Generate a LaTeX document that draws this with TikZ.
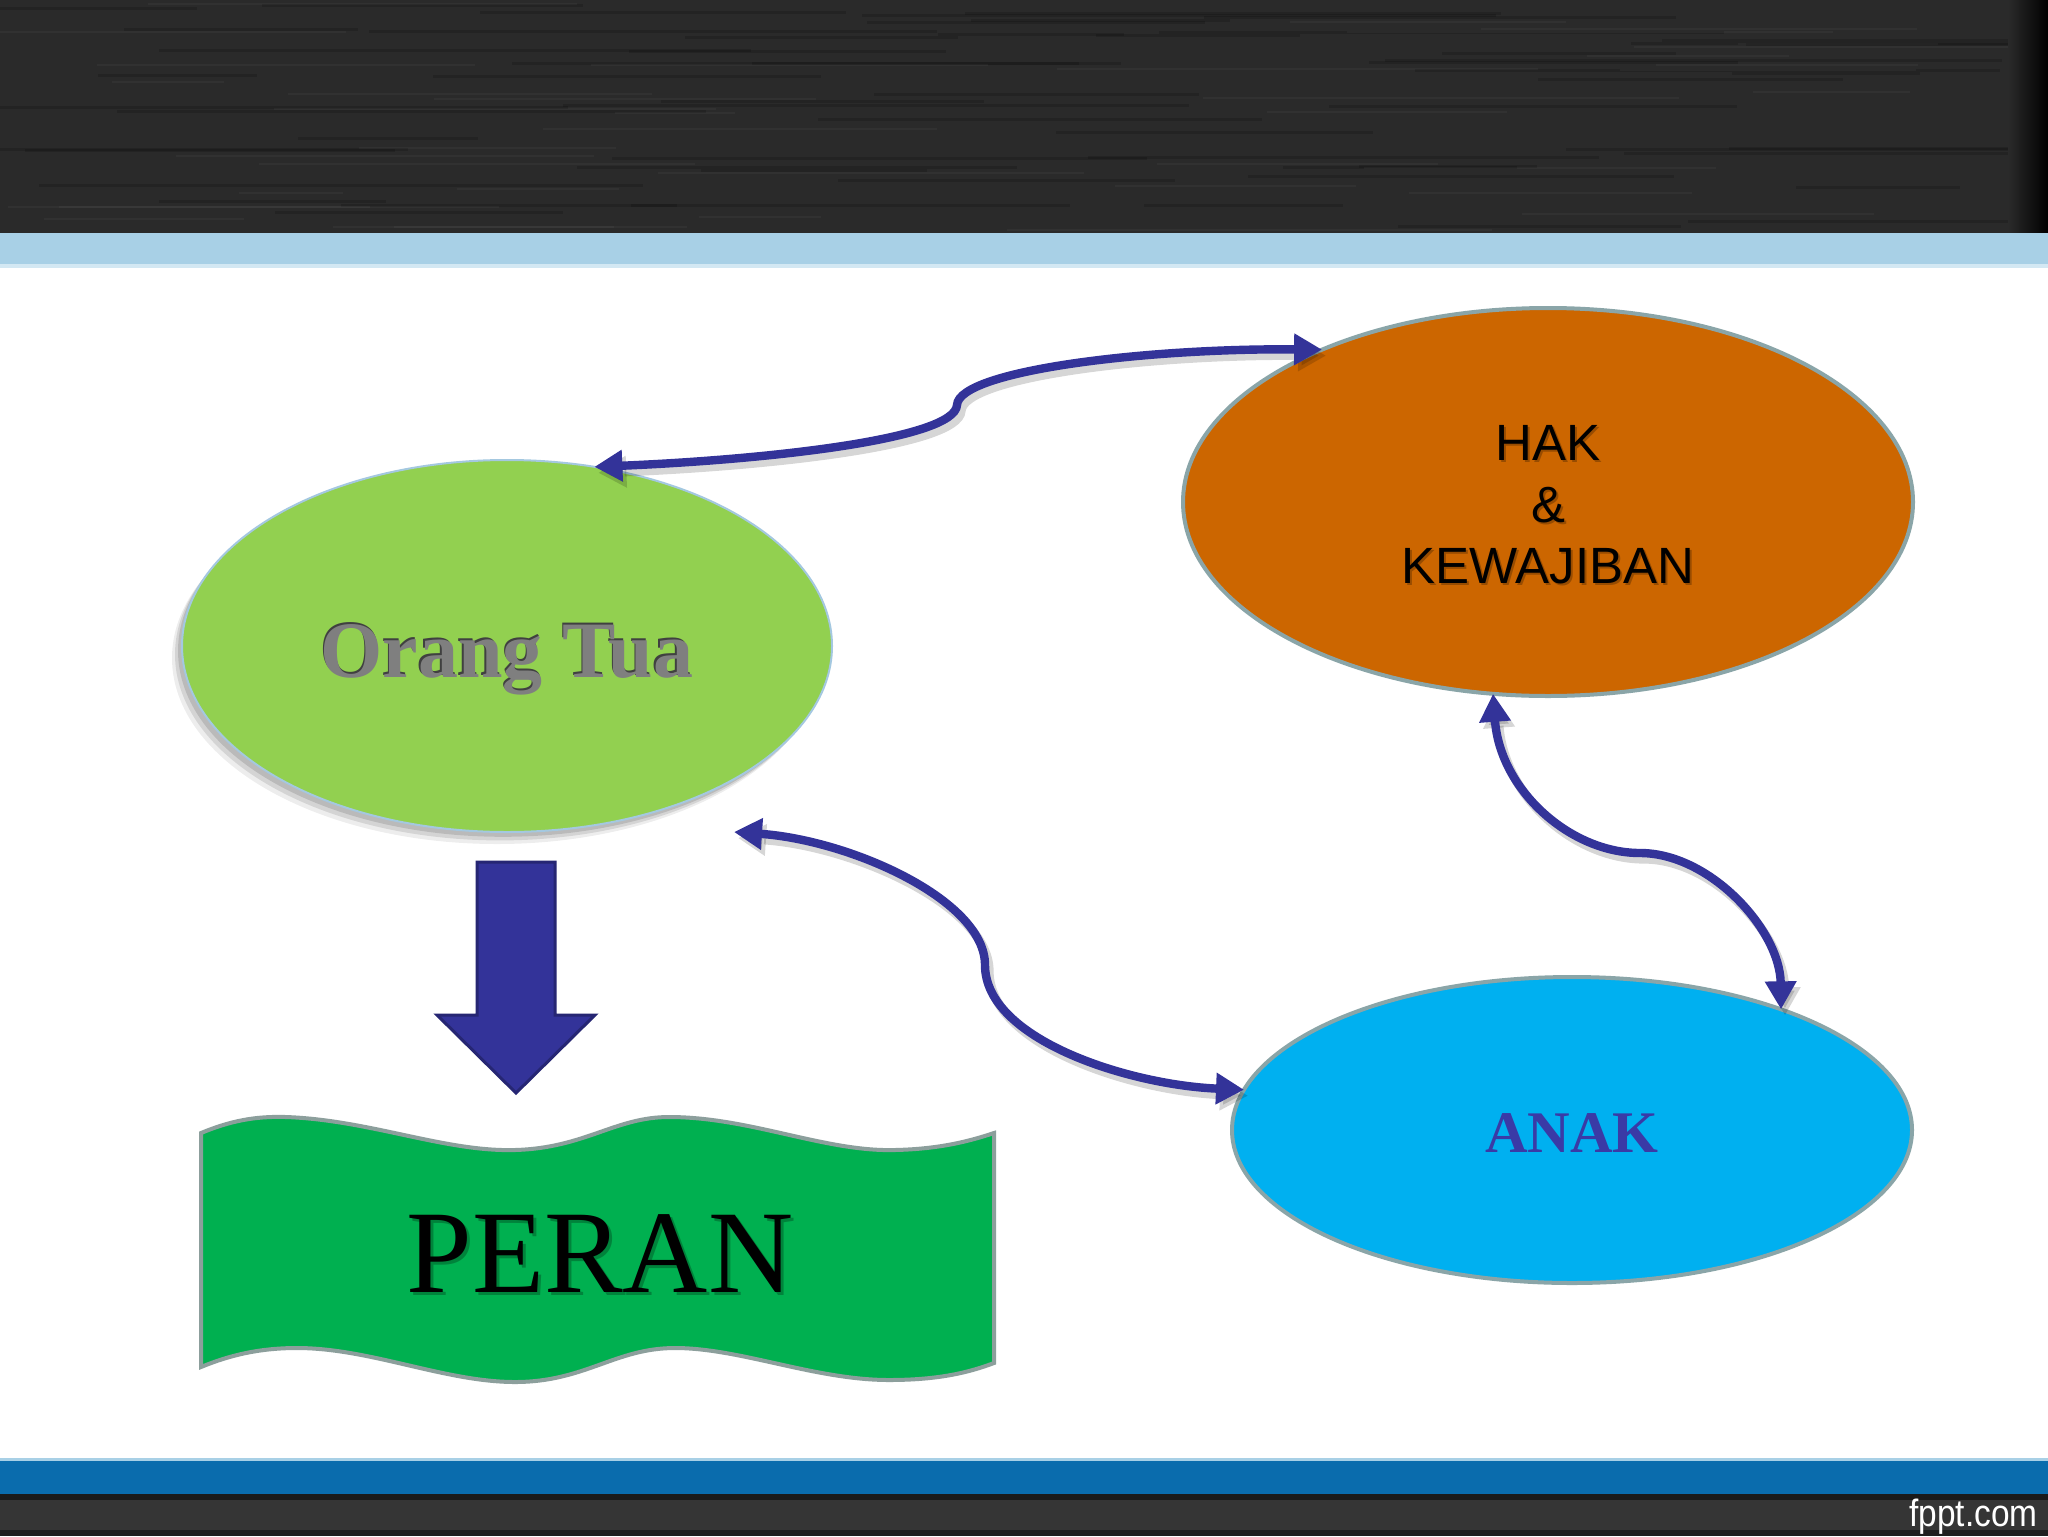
\documentclass[tikz,border=0pt]{standalone}
\usepackage{fontspec}
\setmainfont{Liberation Serif}
\newfontfamily\arialf{Liberation Sans}
\usetikzlibrary{shapes.geometric,arrows.meta}
\definecolor{topdark}{HTML}{2A2A2A}
\definecolor{lightbar}{HTML}{A8D0E6}
\definecolor{botblue}{HTML}{0A6CAD}
\definecolor{greenE}{HTML}{92D050}
\definecolor{greenB}{HTML}{A4C8E0}
\definecolor{orangeE}{HTML}{CC6600}
\definecolor{blueE}{HTML}{00B0F0}
\definecolor{grayB}{HTML}{8AA5A8}
\definecolor{waveG}{HTML}{00B050}
\definecolor{waveB}{HTML}{8C9F9C}
\definecolor{arrowC}{HTML}{333399}
\definecolor{arrowD}{HTML}{262673}
\definecolor{otgray}{HTML}{7F7F7F}
\definecolor{anakC}{HTML}{3A3AA6}
\begin{document}
\begin{tikzpicture}[x=0.5pt,y=-0.5pt,
  conn/.style={draw=arrowC, line width=4.2pt, {Triangle[length=14pt,width=15pt]}-{Triangle[length=14pt,width=15pt]}},
  connshadow/.style={draw=black, opacity=0.16, line width=4.6pt, {Triangle[length=14pt,width=15pt]}-{Triangle[length=14pt,width=15pt]}, transform canvas={shift={(2pt,-3pt)}}},
  ell/.style={ellipse, inner sep=0pt, outer sep=0pt},
  txtshadow/.style={text=black, opacity=0.25}
]
\useasboundingbox (0,0) rectangle (2048,1536);
\fill[white] (0,0) rectangle (2048,1536);
% top bar
\fill[topdark] (0,0) rectangle (2048,233);
\pgfmathsetseed{7}
\foreach \i in {1,...,60}{
  \pgfmathsetmacro\yy{rnd*226+3}
  \pgfmathsetmacro\xa{rnd*1900-100}
  \pgfmathsetmacro\ww{rnd*500+150}
  \fill[black,opacity=0.15] (\xa,\yy) rectangle ++(\ww,3);
}
\foreach \i in {1,...,40}{
  \pgfmathsetmacro\yy{rnd*226+3}
  \pgfmathsetmacro\xa{rnd*1900-100}
  \pgfmathsetmacro\ww{rnd*400+100}
  \fill[white,opacity=0.035] (\xa,\yy) rectangle ++(\ww,2);
}
\shade[left color=topdark, right color=black] (2008,0) rectangle (2048,233);
\fill[lightbar] (0,233) rectangle (2048,266);
\fill[lightbar!50!white] (0,264) rectangle (2048,268);
% bottom bars
\fill[lightbar] (0,1458) rectangle (2048,1461);
\fill[botblue] (0,1461) rectangle (2048,1494);
\fill[topdark!95!white] (0,1494) rectangle (2048,1536);
\fill[black,opacity=0.5] (0,1494) rectangle (2048,1500);
\fill[black,opacity=0.4] (0,1530) rectangle (2048,1536);
\node[anchor=base east, inner sep=0pt, text=white, font=\arialf\fontsize{19}{19}\selectfont, xscale=0.88] (fppt) at (2038,1526) {fppt.com};

% green ellipse shadow
\foreach \s/\o in {4/0.12,7/0.10,10/0.07}{
  \fill[black,opacity=\o] (507-\s,646+\s*1.2) ellipse [x radius=325, y radius=186];
}
% ellipses
\node[ell, fill=greenE, draw=greenB, line width=1pt, minimum width=325pt, minimum height=186pt] (ortu) at (507,646) {};
\node[ell, fill=orangeE, draw=grayB, line width=2pt, minimum width=365pt, minimum height=194pt] (hak) at (1548,502) {};
\node[ell, fill=blueE, draw=grayB, line width=2pt, minimum width=340pt, minimum height=153pt] (anak) at (1572,1130) {};

% texts in ellipses
\node[anchor=base, inner sep=0pt, text=black!75, font=\bfseries\fontsize{40}{40}\selectfont] (otS) at (505.5,675.5) {Orang Tua};
\node[anchor=base, inner sep=0pt, text=otgray, font=\bfseries\fontsize{40}{40}\selectfont] (otT) at (507,677) {Orang Tua};

\node[anchor=base, inner sep=0pt, txtshadow, font=\arialf\fontsize{25.5}{25.5}\selectfont] (hakAs) at (1550,462) {HAK};
\node[anchor=base, inner sep=0pt, txtshadow, font=\arialf\fontsize{25.5}{25.5}\selectfont] (hakBs) at (1550,524) {\&};
\node[anchor=base, inner sep=0pt, txtshadow, font=\arialf\fontsize{25.5}{25.5}\selectfont] (hakCs) at (1550,585) {KEWAJIBAN};
\node[anchor=base, inner sep=0pt, text=black, font=\arialf\fontsize{25.5}{25.5}\selectfont] (hakA) at (1548,460) {HAK};
\node[anchor=base, inner sep=0pt, text=black, font=\arialf\fontsize{25.5}{25.5}\selectfont] (hakB) at (1548,522) {\&};
\node[anchor=base, inner sep=0pt, text=black, font=\arialf\fontsize{25.5}{25.5}\selectfont] (hakC) at (1548,583) {KEWAJIBAN};

\node[anchor=base, inner sep=0pt, text=anakC, font=\bfseries\fontsize{29.5}{29.5}\selectfont] (anakT) at (1572,1152) {ANAK};

% connectors
\coordinate (ortuLow) at (734,832);
\draw[connshadow] (ortu.64) .. controls (760,460) and (955,440) .. (957,405) .. controls (959,370) and (1150,348) .. (hak.146.7);
\draw[conn] (ortu.64) .. controls (760,460) and (955,440) .. (957,405) .. controls (959,370) and (1150,348) .. (hak.146.7);
\draw[connshadow] (ortuLow) .. controls (850,840) and (985,900) .. (985,965) .. controls (985,1040) and (1130,1085) .. (anak.173.4);
\draw[conn] (ortuLow) .. controls (850,840) and (985,900) .. (985,965) .. controls (985,1040) and (1130,1085) .. (anak.173.4);
\draw[connshadow] (hak.254.2) .. controls (1500,790) and (1570,853) .. (1640,853) .. controls (1710,853) and (1780,930) .. (anak.30.2);
\draw[conn] (hak.254.2) .. controls (1500,790) and (1570,853) .. (1640,853) .. controls (1710,853) and (1780,930) .. (anak.30.2);

% block arrow
\draw[fill=arrowC, draw=arrowD, line width=1.5pt, line join=miter] (477,862) -- (555,862) -- (555,1015) -- (595,1015) -- (516,1093) -- (437,1015) -- (477,1015) -- cycle;

% wave banner
\draw[fill=waveG, draw=waveB, line width=2pt]
  (201,1133) .. controls (230,1121) and (255,1116) .. (286,1117)
  .. controls (370,1120) and (445,1152) .. (515,1150)
  .. controls (585,1148) and (615,1117) .. (669,1117)
  .. controls (750,1117) and (825,1152) .. (895,1150)
  .. controls (940,1149) and (970,1141) .. (994,1133)
  -- (994,1363)
  .. controls (970,1372) and (940,1380) .. (889,1380)
  .. controls (815,1380) and (740,1348) .. (675,1348)
  .. controls (615,1348) and (585,1382) .. (515,1382)
  .. controls (445,1382) and (370,1348) .. (297,1348)
  .. controls (260,1348) and (230,1355) .. (201,1367)
  -- cycle;
\node[anchor=base, inner sep=0pt, txtshadow, font=\fontsize{59}{59}\selectfont] (peranS) at (603,1295) {PERAN};
\node[anchor=base, inner sep=0pt, text=black, font=\fontsize{59}{59}\selectfont] (peran) at (600,1292) {PERAN};
\end{tikzpicture}
\end{document}
